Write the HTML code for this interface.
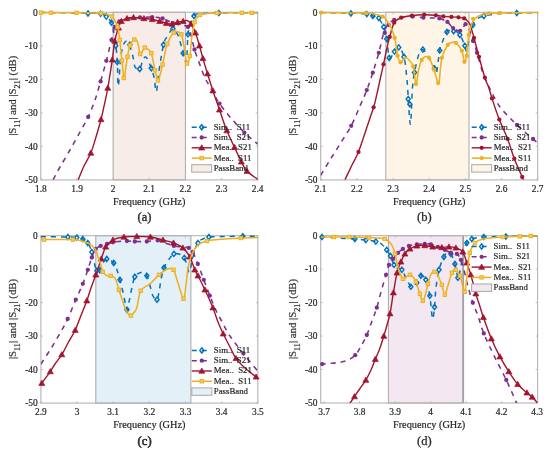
<!DOCTYPE html><html><head><meta charset="utf-8"><style>html,body{margin:0;padding:0;background:#fff;}svg{display:block;}</style></head><body><svg width="550" height="452" viewBox="0 0 550 452" font-family="Liberation Serif, serif">
<rect width="550" height="452" fill="#fff"/>
<defs><clipPath id="clipa"><rect x="40.8" y="9.3" width="216.89999999999998" height="170.6"/></clipPath></defs>
<rect x="113.1" y="12.3" width="72.3" height="167.6" fill="#F8ECE8" stroke="#a8a8a8" stroke-width="1"/>
<rect x="40.8" y="12.3" width="216.9" height="167.6" fill="none" stroke="#b4b4b4" stroke-width="1.1"/>
<path d="M40.8,179.9v-2M40.8,12.3v2M77.0,179.9v-2M77.0,12.3v2M113.1,179.9v-2M113.1,12.3v2M149.2,179.9v-2M149.2,12.3v2M185.4,179.9v-2M185.4,12.3v2M221.5,179.9v-2M221.5,12.3v2M257.7,179.9v-2M257.7,12.3v2M40.8,12.3h2M257.7,12.3h-2M40.8,45.8h2M257.7,45.8h-2M40.8,79.3h2M257.7,79.3h-2M40.8,112.9h2M257.7,112.9h-2M40.8,146.4h2M257.7,146.4h-2M40.8,179.9h2M257.7,179.9h-2" stroke="#b4b4b4" stroke-width="0.8" fill="none"/>
<path clip-path="url(#clipa)" fill="none" stroke-linejoin="round" d="M40.8,12.5C48.7,12.6 78.0,13.0 88.0,13.2C98.0,13.4 97.5,13.2 100.6,13.8C103.6,14.4 104.5,15.1 106.3,16.6C108.1,18.1 110.2,20.1 111.5,22.8C112.8,25.5 113.1,28.9 113.8,32.6C114.5,36.3 115.2,40.1 115.8,45.0C116.4,49.9 116.9,55.3 117.3,62.0C117.7,68.7 117.7,82.0 118.0,85.0C118.3,88.0 118.6,84.1 119.0,80.0C119.4,75.9 119.8,66.2 120.4,60.6C121.0,55.1 121.8,49.9 122.7,46.7C123.6,43.5 124.8,41.8 125.8,41.3C126.8,40.8 127.7,41.1 128.9,43.6C130.1,46.1 131.8,52.1 132.8,56.0C133.8,59.9 133.8,64.6 135.0,66.8C136.2,69.0 138.4,70.1 139.7,69.0C141.0,67.9 141.8,62.0 142.8,60.0C143.8,58.0 144.6,57.0 145.5,57.0C146.4,57.0 147.0,58.1 148.0,60.0C149.0,61.9 150.3,65.3 151.3,68.3C152.3,71.2 153.3,73.8 154.1,77.7C154.9,81.6 155.4,90.3 156.0,91.5C156.6,92.7 157.0,88.2 157.5,85.0C158.0,81.8 157.8,78.7 158.8,72.0C159.8,65.3 162.1,50.8 163.5,44.8C164.9,38.8 165.7,39.0 167.3,36.3C168.9,33.6 171.2,29.1 172.9,28.8C174.6,28.5 176.2,31.7 177.6,34.4C178.9,37.1 180.1,41.9 181.0,45.0C181.9,48.1 182.4,50.3 183.2,53.2C184.0,56.1 185.4,62.3 186.0,62.6C186.6,62.9 186.7,59.7 187.0,55.0C187.3,50.3 187.5,39.4 188.0,34.4C188.5,29.4 189.0,28.1 190.0,25.0C191.0,21.9 192.6,17.9 194.0,16.0C195.4,14.1 194.2,14.3 198.3,13.8C202.4,13.3 208.9,13.2 218.8,13.0C228.7,12.8 251.2,12.7 257.7,12.6" stroke="#0072BD" stroke-width="1.5" stroke-dasharray="5,5"/>
<path d="M88.0,10.8L90.0,13.4L88.0,16.0L86.0,13.4Z" fill="none" stroke="#0072BD" stroke-width="1.4"/>
<path d="M100.6,11.2L102.6,13.8L100.6,16.4L98.5,13.8Z" fill="none" stroke="#0072BD" stroke-width="1.4"/>
<path d="M106.3,14.0L108.3,16.6L106.3,19.2L104.2,16.6Z" fill="none" stroke="#0072BD" stroke-width="1.4"/>
<path d="M111.5,20.2L113.5,22.8L111.5,25.4L109.5,22.8Z" fill="none" stroke="#0072BD" stroke-width="1.4"/>
<path d="M115.8,43.1L117.8,45.7L115.8,48.3L113.8,45.7Z" fill="none" stroke="#0072BD" stroke-width="1.4"/>
<path d="M117.3,59.4L119.3,62.0L117.3,64.6L115.2,62.0Z" fill="none" stroke="#0072BD" stroke-width="1.4"/>
<path d="M129.8,42.2L131.9,44.8L129.8,47.4L127.8,44.8Z" fill="none" stroke="#0072BD" stroke-width="1.4"/>
<path d="M139.7,66.4L141.8,69.0L139.7,71.6L137.6,69.0Z" fill="none" stroke="#0072BD" stroke-width="1.4"/>
<path d="M151.3,65.7L153.4,68.3L151.3,70.9L149.2,68.3Z" fill="none" stroke="#0072BD" stroke-width="1.4"/>
<path d="M163.5,42.2L165.6,44.8L163.5,47.4L161.4,44.8Z" fill="none" stroke="#0072BD" stroke-width="1.4"/>
<path d="M172.9,26.2L175.0,28.8L172.9,31.4L170.8,28.8Z" fill="none" stroke="#0072BD" stroke-width="1.4"/>
<path d="M183.2,50.6L185.2,53.2L183.2,55.8L181.1,53.2Z" fill="none" stroke="#0072BD" stroke-width="1.4"/>
<path d="M188.0,31.8L190.1,34.4L188.0,37.0L185.9,34.4Z" fill="none" stroke="#0072BD" stroke-width="1.4"/>
<path d="M194.0,13.4L196.1,16.0L194.0,18.6L191.9,16.0Z" fill="none" stroke="#0072BD" stroke-width="1.4"/>
<path d="M218.8,10.4L220.9,13.0L218.8,15.6L216.8,13.0Z" fill="none" stroke="#0072BD" stroke-width="1.4"/>
<path clip-path="url(#clipa)" fill="none" stroke-linejoin="round" d="M53.2,179.6C54.3,177.5 57.2,171.9 60.0,167.0C62.8,162.1 66.7,155.8 70.0,150.0C73.3,144.2 77.0,137.5 80.0,132.0C83.0,126.5 85.7,122.3 88.2,117.0C90.7,111.7 92.9,105.9 95.0,100.0C97.1,94.1 98.7,87.9 100.6,81.4C102.5,74.9 104.5,67.7 106.3,60.8C108.1,53.9 110.1,45.6 111.5,40.0C112.9,34.4 113.4,30.1 114.7,27.0C116.0,23.9 117.7,22.6 119.4,21.3C121.1,20.0 123.2,19.6 125.0,19.0C126.8,18.4 127.5,18.2 130.0,18.0C132.5,17.8 136.3,17.6 140.0,17.5C143.7,17.4 148.4,16.9 152.2,17.1C156.0,17.3 159.1,17.5 162.6,18.5C166.1,19.5 170.0,22.1 172.9,23.2C175.8,24.3 177.5,24.4 180.0,25.0C182.5,25.6 186.2,25.3 188.0,27.0C189.8,28.7 189.9,31.2 191.0,35.0C192.1,38.8 193.0,44.5 194.5,49.5C196.0,54.5 198.2,60.2 200.0,65.0C201.8,69.8 203.3,74.4 205.0,78.0C206.7,81.6 208.2,83.7 209.9,86.7C211.6,89.7 213.4,93.2 215.0,96.0C216.6,98.8 217.0,100.1 219.5,103.6C222.0,107.1 225.8,112.2 230.0,117.0C234.2,121.8 239.7,128.2 244.4,132.7C249.1,137.2 255.7,142.2 258.0,144.1" stroke="#7E2F8E" stroke-width="1.55" stroke-dasharray="5,5"/>
<circle cx="88.2" cy="117.0" r="2.15" fill="#7E2F8E"/>
<circle cx="100.6" cy="81.4" r="2.15" fill="#7E2F8E"/>
<circle cx="106.3" cy="60.8" r="2.15" fill="#7E2F8E"/>
<circle cx="111.5" cy="40.0" r="2.15" fill="#7E2F8E"/>
<circle cx="114.7" cy="27.0" r="2.15" fill="#7E2F8E"/>
<circle cx="119.4" cy="21.3" r="2.15" fill="#7E2F8E"/>
<circle cx="140.0" cy="17.5" r="2.15" fill="#7E2F8E"/>
<circle cx="152.2" cy="17.1" r="2.15" fill="#7E2F8E"/>
<circle cx="162.6" cy="18.5" r="2.15" fill="#7E2F8E"/>
<circle cx="172.9" cy="23.2" r="2.15" fill="#7E2F8E"/>
<circle cx="188.0" cy="27.0" r="2.15" fill="#7E2F8E"/>
<circle cx="194.5" cy="49.5" r="2.15" fill="#7E2F8E"/>
<circle cx="219.5" cy="103.6" r="2.15" fill="#7E2F8E"/>
<circle cx="244.4" cy="132.7" r="2.15" fill="#7E2F8E"/>
<path clip-path="url(#clipa)" fill="none" stroke-linejoin="round" d="M78.2,179.6C79.2,177.3 81.9,170.4 84.0,166.0C86.1,161.6 88.8,157.8 90.8,153.0C92.8,148.2 94.3,142.6 96.0,137.0C97.7,131.4 99.6,125.0 101.0,119.5C102.4,114.0 103.4,109.2 104.5,104.0C105.6,98.8 106.5,95.4 107.8,88.0C109.1,80.6 111.1,67.6 112.3,59.8C113.5,52.0 113.7,46.3 114.7,41.0C115.7,35.7 117.4,31.2 118.5,27.9C119.6,24.6 119.9,22.9 121.3,21.3C122.7,19.7 125.0,19.1 127.0,18.5C129.0,17.9 130.7,17.5 133.5,17.5C136.3,17.5 140.8,18.2 143.9,18.5C147.0,18.8 149.7,18.9 152.3,19.4C154.9,19.9 157.4,20.7 159.7,21.3C162.0,21.9 164.2,22.7 166.3,23.2C168.4,23.7 170.1,24.3 172.0,24.1C173.9,23.9 175.7,22.7 177.6,22.2C179.5,21.7 181.6,21.6 183.2,21.3C184.8,21.0 185.7,20.1 187.0,20.5C188.3,20.9 189.6,21.9 191.0,24.0C192.4,26.1 194.1,29.3 195.5,32.9C196.9,36.5 198.3,41.5 199.5,45.8C200.7,50.0 201.6,53.8 202.9,58.4C204.2,63.0 205.8,68.3 207.5,73.7C209.2,79.1 210.9,84.7 212.9,90.7C214.9,96.7 217.2,103.2 219.5,109.8C221.8,116.4 224.3,124.3 226.8,130.6C229.3,136.8 232.1,142.1 234.5,147.3C236.9,152.5 239.2,157.8 241.3,161.8C243.4,165.8 244.2,168.2 247.0,171.2C249.8,174.1 256.2,178.1 258.0,179.5" stroke="#A2142F" stroke-width="1.4"/>
<path d="M90.8,150.0L93.8,155.2L87.8,155.2Z" fill="#A2142F" stroke="#A2142F" stroke-width="0.7" stroke-linejoin="round"/>
<path d="M101.0,116.5L104.0,121.7L98.0,121.7Z" fill="#A2142F" stroke="#A2142F" stroke-width="0.7" stroke-linejoin="round"/>
<path d="M107.8,85.0L110.8,90.2L104.8,90.2Z" fill="#A2142F" stroke="#A2142F" stroke-width="0.7" stroke-linejoin="round"/>
<path d="M112.3,56.8L115.3,62.0L109.3,62.0Z" fill="#A2142F" stroke="#A2142F" stroke-width="0.7" stroke-linejoin="round"/>
<path d="M114.7,38.0L117.7,43.2L111.7,43.2Z" fill="#A2142F" stroke="#A2142F" stroke-width="0.7" stroke-linejoin="round"/>
<path d="M118.5,24.9L121.5,30.1L115.5,30.1Z" fill="#A2142F" stroke="#A2142F" stroke-width="0.7" stroke-linejoin="round"/>
<path d="M121.3,18.3L124.3,23.5L118.3,23.5Z" fill="#A2142F" stroke="#A2142F" stroke-width="0.7" stroke-linejoin="round"/>
<path d="M127.0,15.5L130.0,20.7L124.0,20.7Z" fill="#A2142F" stroke="#A2142F" stroke-width="0.7" stroke-linejoin="round"/>
<path d="M133.5,14.5L136.5,19.7L130.5,19.7Z" fill="#A2142F" stroke="#A2142F" stroke-width="0.7" stroke-linejoin="round"/>
<path d="M143.9,15.5L146.9,20.7L140.9,20.7Z" fill="#A2142F" stroke="#A2142F" stroke-width="0.7" stroke-linejoin="round"/>
<path d="M152.3,16.4L155.3,21.6L149.3,21.6Z" fill="#A2142F" stroke="#A2142F" stroke-width="0.7" stroke-linejoin="round"/>
<path d="M159.7,18.3L162.7,23.5L156.7,23.5Z" fill="#A2142F" stroke="#A2142F" stroke-width="0.7" stroke-linejoin="round"/>
<path d="M166.3,20.2L169.3,25.4L163.3,25.4Z" fill="#A2142F" stroke="#A2142F" stroke-width="0.7" stroke-linejoin="round"/>
<path d="M172.0,21.1L175.0,26.3L169.0,26.3Z" fill="#A2142F" stroke="#A2142F" stroke-width="0.7" stroke-linejoin="round"/>
<path d="M177.6,19.2L180.6,24.4L174.6,24.4Z" fill="#A2142F" stroke="#A2142F" stroke-width="0.7" stroke-linejoin="round"/>
<path d="M183.2,18.3L186.2,23.5L180.2,23.5Z" fill="#A2142F" stroke="#A2142F" stroke-width="0.7" stroke-linejoin="round"/>
<path d="M191.0,21.0L194.0,26.2L188.0,26.2Z" fill="#A2142F" stroke="#A2142F" stroke-width="0.7" stroke-linejoin="round"/>
<path d="M195.5,29.9L198.5,35.1L192.5,35.1Z" fill="#A2142F" stroke="#A2142F" stroke-width="0.7" stroke-linejoin="round"/>
<path d="M199.5,42.8L202.5,48.0L196.5,48.0Z" fill="#A2142F" stroke="#A2142F" stroke-width="0.7" stroke-linejoin="round"/>
<path d="M202.9,55.4L205.9,60.6L199.9,60.6Z" fill="#A2142F" stroke="#A2142F" stroke-width="0.7" stroke-linejoin="round"/>
<path d="M207.5,70.7L210.5,75.9L204.5,75.9Z" fill="#A2142F" stroke="#A2142F" stroke-width="0.7" stroke-linejoin="round"/>
<path d="M212.9,87.7L215.9,92.9L209.9,92.9Z" fill="#A2142F" stroke="#A2142F" stroke-width="0.7" stroke-linejoin="round"/>
<path d="M219.5,106.8L222.5,112.0L216.5,112.0Z" fill="#A2142F" stroke="#A2142F" stroke-width="0.7" stroke-linejoin="round"/>
<path d="M226.8,127.6L229.8,132.8L223.8,132.8Z" fill="#A2142F" stroke="#A2142F" stroke-width="0.7" stroke-linejoin="round"/>
<path d="M234.5,144.3L237.5,149.5L231.5,149.5Z" fill="#A2142F" stroke="#A2142F" stroke-width="0.7" stroke-linejoin="round"/>
<path d="M241.3,158.8L244.3,164.0L238.3,164.0Z" fill="#A2142F" stroke="#A2142F" stroke-width="0.7" stroke-linejoin="round"/>
<path d="M247.0,168.2L250.0,173.4L244.0,173.4Z" fill="#A2142F" stroke="#A2142F" stroke-width="0.7" stroke-linejoin="round"/>
<path clip-path="url(#clipa)" fill="none" stroke-linejoin="round" d="M40.8,12.6C42.5,12.6 45.0,12.7 51.0,12.7C57.0,12.7 68.3,12.7 76.6,12.8C84.9,12.9 95.8,13.0 101.0,13.3C106.2,13.6 106.2,13.9 108.0,14.5C109.8,15.1 110.9,15.7 112.0,16.6C113.1,17.5 113.6,18.3 114.5,20.0C115.4,21.7 116.7,23.7 117.6,27.0C118.5,30.3 119.1,34.4 119.8,40.0C120.5,45.6 121.3,54.3 122.0,60.6C122.7,66.9 123.2,76.4 123.8,78.0C124.4,79.6 124.9,73.5 125.5,70.0C126.1,66.5 126.8,60.8 127.5,56.7C128.2,52.6 128.9,48.4 130.0,45.5C131.1,42.6 133.1,40.1 134.3,39.5C135.6,38.9 136.5,39.6 137.5,42.0C138.5,44.4 139.4,52.3 140.2,54.0C140.9,55.7 141.2,53.1 142.0,52.0C142.8,50.9 144.0,48.2 144.8,47.6C145.6,47.0 145.9,47.6 147.0,48.5C148.1,49.4 150.0,49.6 151.3,53.2C152.6,56.8 153.9,65.7 155.0,70.2C156.1,74.8 157.1,79.7 157.9,80.5C158.7,81.3 159.2,77.7 160.0,75.0C160.8,72.3 161.4,69.7 162.6,64.5C163.8,59.3 165.4,49.1 167.3,43.8C169.2,38.5 172.0,34.6 173.8,32.6C175.6,30.6 176.7,31.7 178.0,32.0C179.3,32.3 180.4,31.8 181.4,34.4C182.4,37.0 183.3,42.7 184.2,47.6C185.1,52.5 186.1,62.2 187.0,63.6C187.9,65.0 189.0,60.2 189.8,56.0C190.6,51.8 190.9,43.8 191.7,38.2C192.5,32.6 193.4,25.8 194.5,22.2C195.6,18.6 197.4,17.8 198.3,16.6C199.2,15.4 198.8,15.5 199.9,15.0C201.0,14.5 202.2,14.1 205.0,13.8C207.8,13.5 210.8,13.2 216.9,13.0C223.0,12.8 236.0,12.8 241.8,12.8C247.6,12.8 249.0,12.8 251.7,12.8C254.3,12.8 256.7,12.8 257.7,12.8" stroke="#EDB120" stroke-width="1.55"/>
<rect x="39.3" y="10.9" width="3.4" height="3.4" fill="#F3CB6A" stroke="#EDB120" stroke-width="1"/>
<rect x="49.3" y="11.0" width="3.4" height="3.4" fill="#F3CB6A" stroke="#EDB120" stroke-width="1"/>
<rect x="74.9" y="11.1" width="3.4" height="3.4" fill="#F3CB6A" stroke="#EDB120" stroke-width="1"/>
<rect x="99.3" y="11.6" width="3.4" height="3.4" fill="#F3CB6A" stroke="#EDB120" stroke-width="1"/>
<rect x="110.3" y="14.9" width="3.4" height="3.4" fill="#F3CB6A" stroke="#EDB120" stroke-width="1"/>
<rect x="115.9" y="25.3" width="3.4" height="3.4" fill="#F3CB6A" stroke="#EDB120" stroke-width="1"/>
<rect x="118.1" y="38.3" width="3.4" height="3.4" fill="#F3CB6A" stroke="#EDB120" stroke-width="1"/>
<rect x="120.3" y="58.9" width="3.4" height="3.4" fill="#F3CB6A" stroke="#EDB120" stroke-width="1"/>
<rect x="122.1" y="76.3" width="3.4" height="3.4" fill="#F3CB6A" stroke="#EDB120" stroke-width="1"/>
<rect x="125.8" y="55.0" width="3.4" height="3.4" fill="#F3CB6A" stroke="#EDB120" stroke-width="1"/>
<rect x="128.3" y="43.8" width="3.4" height="3.4" fill="#F3CB6A" stroke="#EDB120" stroke-width="1"/>
<rect x="132.6" y="37.8" width="3.4" height="3.4" fill="#F3CB6A" stroke="#EDB120" stroke-width="1"/>
<rect x="138.5" y="52.3" width="3.4" height="3.4" fill="#F3CB6A" stroke="#EDB120" stroke-width="1"/>
<rect x="143.1" y="45.9" width="3.4" height="3.4" fill="#F3CB6A" stroke="#EDB120" stroke-width="1"/>
<rect x="149.6" y="51.5" width="3.4" height="3.4" fill="#F3CB6A" stroke="#EDB120" stroke-width="1"/>
<rect x="153.3" y="68.5" width="3.4" height="3.4" fill="#F3CB6A" stroke="#EDB120" stroke-width="1"/>
<rect x="156.2" y="78.8" width="3.4" height="3.4" fill="#F3CB6A" stroke="#EDB120" stroke-width="1"/>
<rect x="160.9" y="62.8" width="3.4" height="3.4" fill="#F3CB6A" stroke="#EDB120" stroke-width="1"/>
<rect x="165.6" y="42.1" width="3.4" height="3.4" fill="#F3CB6A" stroke="#EDB120" stroke-width="1"/>
<rect x="172.1" y="30.9" width="3.4" height="3.4" fill="#F3CB6A" stroke="#EDB120" stroke-width="1"/>
<rect x="179.7" y="32.7" width="3.4" height="3.4" fill="#F3CB6A" stroke="#EDB120" stroke-width="1"/>
<rect x="185.3" y="61.9" width="3.4" height="3.4" fill="#F3CB6A" stroke="#EDB120" stroke-width="1"/>
<rect x="188.1" y="54.3" width="3.4" height="3.4" fill="#F3CB6A" stroke="#EDB120" stroke-width="1"/>
<rect x="192.8" y="20.5" width="3.4" height="3.4" fill="#F3CB6A" stroke="#EDB120" stroke-width="1"/>
<rect x="198.2" y="13.3" width="3.4" height="3.4" fill="#F3CB6A" stroke="#EDB120" stroke-width="1"/>
<rect x="215.2" y="11.3" width="3.4" height="3.4" fill="#F3CB6A" stroke="#EDB120" stroke-width="1"/>
<rect x="240.1" y="11.1" width="3.4" height="3.4" fill="#F3CB6A" stroke="#EDB120" stroke-width="1"/>
<rect x="250.0" y="11.1" width="3.4" height="3.4" fill="#F3CB6A" stroke="#EDB120" stroke-width="1"/>
<line x1="191.7" y1="127.2" x2="211.7" y2="127.2" stroke="#0072BD" stroke-width="1.5" stroke-dasharray="5,5"/>
<path d="M201.7,124.6L203.8,127.2L201.7,129.8L199.6,127.2Z" fill="none" stroke="#0072BD" stroke-width="1.4"/>
<line x1="191.7" y1="137.5" x2="211.7" y2="137.5" stroke="#7E2F8E" stroke-width="1.55" stroke-dasharray="5,5"/>
<circle cx="201.7" cy="137.5" r="2.15" fill="#7E2F8E"/>
<line x1="191.7" y1="147.8" x2="211.7" y2="147.8" stroke="#A2142F" stroke-width="1.4"/>
<path d="M201.7,144.8L204.7,150.0L198.7,150.0Z" fill="#A2142F" stroke="#A2142F" stroke-width="0.7" stroke-linejoin="round"/>
<line x1="191.7" y1="158.1" x2="211.7" y2="158.1" stroke="#EDB120" stroke-width="1.55"/>
<rect x="200.0" y="156.4" width="3.4" height="3.4" fill="#F3CB6A" stroke="#EDB120" stroke-width="1"/>
<rect x="191.7" y="164.7" width="20" height="7.4" fill="#F8ECE8" stroke="#a8a8a8" stroke-width="1"/>
<defs><clipPath id="clipb"><rect x="320.7" y="9.3" width="217.00000000000006" height="170.6"/></clipPath></defs>
<rect x="385.8" y="12.3" width="83.2" height="167.6" fill="#FEF5E6" stroke="#a8a8a8" stroke-width="1"/>
<rect x="320.7" y="12.3" width="217.0" height="167.6" fill="none" stroke="#b4b4b4" stroke-width="1.1"/>
<path d="M320.7,179.9v-2M320.7,12.3v2M356.9,179.9v-2M356.9,12.3v2M393.0,179.9v-2M393.0,12.3v2M429.2,179.9v-2M429.2,12.3v2M465.4,179.9v-2M465.4,12.3v2M501.5,179.9v-2M501.5,12.3v2M537.7,179.9v-2M537.7,12.3v2M320.7,12.3h2M537.7,12.3h-2M320.7,45.8h2M537.7,45.8h-2M320.7,79.3h2M537.7,79.3h-2M320.7,112.9h2M537.7,112.9h-2M320.7,146.4h2M537.7,146.4h-2M320.7,179.9h2M537.7,179.9h-2" stroke="#b4b4b4" stroke-width="0.8" fill="none"/>
<path clip-path="url(#clipb)" fill="none" stroke-linejoin="round" d="M320.7,12.6C325.7,12.7 343.2,13.0 350.9,13.2C358.6,13.4 363.1,13.5 366.8,14.0C370.5,14.5 370.8,15.2 372.8,16.0C374.8,16.8 377.0,16.7 378.8,18.5C380.6,20.3 382.1,23.8 383.5,27.0C384.9,30.2 386.1,32.9 387.0,38.0C387.9,43.1 387.9,55.6 389.2,57.9C390.4,60.2 392.9,53.4 394.5,51.6C396.1,49.9 397.1,46.5 398.7,47.4C400.3,48.3 402.6,51.4 404.0,56.8C405.4,62.2 405.9,68.8 407.0,80.0C408.1,91.2 409.4,122.8 410.3,124.2C411.2,125.6 411.7,97.0 412.4,88.4C413.1,79.8 413.4,78.2 414.5,72.6C415.6,67.0 417.3,58.6 418.7,54.7C420.1,50.9 421.5,49.5 422.9,49.5C424.3,49.5 425.4,52.7 427.0,55.0C428.6,57.3 431.1,61.0 432.4,63.2C433.6,65.4 433.8,66.9 434.5,68.4C435.2,69.9 435.7,75.0 436.6,72.0C437.5,69.0 438.8,55.3 439.7,50.5C440.6,45.7 440.8,46.1 442.0,43.0C443.2,39.9 445.1,34.1 446.9,31.9C448.7,29.7 450.7,29.4 452.9,29.9C455.1,30.4 457.9,32.2 459.9,34.9C461.9,37.5 463.6,43.1 464.8,45.8C466.0,48.4 466.0,52.6 466.8,50.8C467.6,49.0 468.8,39.2 469.8,34.9C470.8,30.6 471.6,27.5 472.8,24.9C474.0,22.2 475.1,20.5 477.0,19.0C478.9,17.5 480.1,16.9 483.9,16.0C487.7,15.1 494.5,14.0 500.0,13.5C505.5,13.0 510.5,13.1 516.8,13.0C523.1,12.9 534.2,12.8 537.7,12.7" stroke="#0072BD" stroke-width="1.5" stroke-dasharray="5,5"/>
<path d="M350.9,10.8L352.9,13.4L350.9,16.0L348.8,13.4Z" fill="none" stroke="#0072BD" stroke-width="1.4"/>
<path d="M366.8,11.4L368.9,14.0L366.8,16.6L364.8,14.0Z" fill="none" stroke="#0072BD" stroke-width="1.4"/>
<path d="M372.8,13.4L374.9,16.0L372.8,18.6L370.8,16.0Z" fill="none" stroke="#0072BD" stroke-width="1.4"/>
<path d="M378.8,15.4L380.9,18.0L378.8,20.6L376.8,18.0Z" fill="none" stroke="#0072BD" stroke-width="1.4"/>
<path d="M383.7,24.3L385.8,26.9L383.7,29.5L381.6,26.9Z" fill="none" stroke="#0072BD" stroke-width="1.4"/>
<path d="M386.7,36.3L388.8,38.9L386.7,41.5L384.6,38.9Z" fill="none" stroke="#0072BD" stroke-width="1.4"/>
<path d="M389.2,55.3L391.2,57.9L389.2,60.5L387.1,57.9Z" fill="none" stroke="#0072BD" stroke-width="1.4"/>
<path d="M394.5,49.0L396.6,51.6L394.5,54.2L392.4,51.6Z" fill="none" stroke="#0072BD" stroke-width="1.4"/>
<path d="M398.7,44.8L400.8,47.4L398.7,50.0L396.6,47.4Z" fill="none" stroke="#0072BD" stroke-width="1.4"/>
<path d="M404.0,54.2L406.1,56.8L404.0,59.4L401.9,56.8Z" fill="none" stroke="#0072BD" stroke-width="1.4"/>
<path d="M408.2,96.4L410.2,99.0L408.2,101.6L406.1,99.0Z" fill="none" stroke="#0072BD" stroke-width="1.4"/>
<path d="M409.8,101.6L411.9,104.2L409.8,106.8L407.8,104.2Z" fill="none" stroke="#0072BD" stroke-width="1.4"/>
<path d="M414.5,70.0L416.6,72.6L414.5,75.2L412.4,72.6Z" fill="none" stroke="#0072BD" stroke-width="1.4"/>
<path d="M422.9,46.9L424.9,49.5L422.9,52.1L420.8,49.5Z" fill="none" stroke="#0072BD" stroke-width="1.4"/>
<path d="M434.5,65.8L436.6,68.4L434.5,71.0L432.4,68.4Z" fill="none" stroke="#0072BD" stroke-width="1.4"/>
<path d="M439.7,47.9L441.8,50.5L439.7,53.1L437.6,50.5Z" fill="none" stroke="#0072BD" stroke-width="1.4"/>
<path d="M446.9,29.3L448.9,31.9L446.9,34.5L444.8,31.9Z" fill="none" stroke="#0072BD" stroke-width="1.4"/>
<path d="M453.6,28.6L455.7,31.2L453.6,33.8L451.6,31.2Z" fill="none" stroke="#0072BD" stroke-width="1.4"/>
<path d="M459.9,32.3L461.9,34.9L459.9,37.5L457.8,34.9Z" fill="none" stroke="#0072BD" stroke-width="1.4"/>
<path d="M464.8,43.2L466.9,45.8L464.8,48.4L462.8,45.8Z" fill="none" stroke="#0072BD" stroke-width="1.4"/>
<path d="M472.8,22.3L474.9,24.9L472.8,27.5L470.8,24.9Z" fill="none" stroke="#0072BD" stroke-width="1.4"/>
<path d="M483.9,13.4L485.9,16.0L483.9,18.6L481.8,16.0Z" fill="none" stroke="#0072BD" stroke-width="1.4"/>
<path d="M516.8,10.4L518.8,13.0L516.8,15.6L514.8,13.0Z" fill="none" stroke="#0072BD" stroke-width="1.4"/>
<path clip-path="url(#clipb)" fill="none" stroke-linejoin="round" d="M320.7,175.3C322.2,172.8 326.8,165.2 330.0,160.0C333.2,154.8 336.5,149.7 340.0,144.0C343.5,138.3 347.9,132.1 351.2,125.8C354.5,119.5 357.4,112.0 360.0,106.0C362.6,100.0 364.7,95.6 366.8,90.1C368.9,84.5 370.8,78.9 372.8,72.7C374.8,66.5 377.0,59.4 378.8,52.8C380.6,46.2 382.3,37.6 383.5,33.3C384.7,29.0 385.1,28.9 386.2,27.1C387.3,25.3 388.7,23.7 390.0,22.5C391.3,21.3 392.5,20.8 394.2,20.0C395.9,19.2 396.9,18.6 400.0,18.0C403.1,17.4 408.8,16.6 412.7,16.5C416.6,16.4 420.0,17.4 423.4,17.7C426.8,17.9 430.3,17.9 433.0,18.0C435.7,18.1 437.0,17.8 439.4,18.4C441.8,19.0 445.1,20.3 447.4,21.9C449.7,23.5 451.0,26.6 453.1,28.1C455.2,29.6 458.1,31.5 460.2,30.8C462.3,30.1 464.2,25.0 465.5,24.2C466.8,23.4 466.8,23.4 468.0,26.0C469.2,28.6 471.5,35.5 473.0,40.0C474.5,44.5 475.4,47.3 477.0,52.8C478.6,58.2 480.6,66.3 482.9,72.7C485.2,79.1 488.1,85.3 491.0,91.0C493.9,96.7 496.8,102.5 500.0,107.0C503.2,111.5 507.2,115.0 510.0,118.0C512.8,121.0 514.2,122.3 517.0,125.0C519.8,127.7 523.5,131.0 527.0,134.0C530.5,137.0 535.9,141.5 537.7,143.0" stroke="#7E2F8E" stroke-width="1.55" stroke-dasharray="5,5"/>
<circle cx="351.2" cy="125.8" r="2.15" fill="#7E2F8E"/>
<circle cx="366.8" cy="90.1" r="2.15" fill="#7E2F8E"/>
<circle cx="372.8" cy="72.7" r="2.15" fill="#7E2F8E"/>
<circle cx="378.8" cy="52.8" r="2.15" fill="#7E2F8E"/>
<circle cx="384.7" cy="32.9" r="2.15" fill="#7E2F8E"/>
<circle cx="388.7" cy="24.9" r="2.15" fill="#7E2F8E"/>
<circle cx="394.2" cy="20.0" r="2.15" fill="#7E2F8E"/>
<circle cx="412.7" cy="16.5" r="2.15" fill="#7E2F8E"/>
<circle cx="423.4" cy="17.7" r="2.15" fill="#7E2F8E"/>
<circle cx="439.4" cy="18.4" r="2.15" fill="#7E2F8E"/>
<circle cx="447.4" cy="21.9" r="2.15" fill="#7E2F8E"/>
<circle cx="453.1" cy="28.1" r="2.15" fill="#7E2F8E"/>
<circle cx="460.2" cy="30.8" r="2.15" fill="#7E2F8E"/>
<circle cx="465.5" cy="24.2" r="2.15" fill="#7E2F8E"/>
<circle cx="473.0" cy="40.9" r="2.15" fill="#7E2F8E"/>
<circle cx="477.0" cy="52.8" r="2.15" fill="#7E2F8E"/>
<circle cx="517.0" cy="125.0" r="2.15" fill="#7E2F8E"/>
<circle cx="533.0" cy="139.0" r="2.15" fill="#7E2F8E"/>
<path clip-path="url(#clipb)" fill="none" stroke-linejoin="round" d="M345.0,179.6C346.2,177.2 349.8,169.6 352.0,165.0C354.2,160.4 356.2,157.8 358.5,152.0C360.8,146.2 363.5,137.4 366.0,130.0C368.5,122.5 371.8,113.2 373.6,107.3C375.4,101.4 375.7,99.1 376.8,94.6C377.9,90.0 378.9,85.0 380.0,80.0C381.1,75.0 382.4,69.3 383.5,64.3C384.6,59.3 385.5,54.6 386.5,50.0C387.5,45.4 388.4,41.4 389.7,36.9C391.0,32.4 392.3,25.9 394.2,22.7C396.1,19.5 398.2,18.9 401.2,17.7C404.1,16.5 408.1,16.1 411.9,15.6C415.7,15.1 420.2,14.8 424.2,14.7C428.2,14.6 432.7,15.0 435.9,15.3C439.1,15.6 440.8,16.1 443.4,16.4C446.0,16.7 448.9,16.8 451.4,16.9C453.9,17.0 456.4,17.1 458.5,17.3C460.6,17.6 462.8,17.9 464.2,18.4C465.6,18.9 466.0,19.5 467.0,20.5C468.0,21.5 468.8,21.7 470.0,24.6C471.2,27.5 472.5,32.5 474.0,37.9C475.5,43.3 477.2,50.2 479.0,56.8C480.8,63.4 483.2,72.5 484.9,77.7C486.5,82.9 487.7,84.5 488.9,88.0C490.1,91.5 490.3,93.1 492.0,98.4C493.7,103.7 496.7,112.8 499.3,119.6C501.9,126.3 505.1,132.4 507.6,138.9C510.1,145.4 511.9,152.3 514.3,158.7C516.7,165.0 520.7,173.5 522.2,177.0C523.7,180.5 523.3,179.2 523.5,179.6" stroke="#A2142F" stroke-width="1.4"/>
<circle cx="358.5" cy="152.0" r="2.15" fill="#A2142F"/>
<circle cx="373.6" cy="107.3" r="2.15" fill="#A2142F"/>
<circle cx="383.5" cy="64.3" r="2.15" fill="#A2142F"/>
<circle cx="389.7" cy="36.9" r="2.15" fill="#A2142F"/>
<circle cx="394.2" cy="22.7" r="2.15" fill="#A2142F"/>
<circle cx="401.2" cy="17.7" r="2.15" fill="#A2142F"/>
<circle cx="411.9" cy="15.6" r="2.15" fill="#A2142F"/>
<circle cx="424.2" cy="14.7" r="2.15" fill="#A2142F"/>
<circle cx="435.9" cy="15.3" r="2.15" fill="#A2142F"/>
<circle cx="443.4" cy="16.4" r="2.15" fill="#A2142F"/>
<circle cx="451.4" cy="16.9" r="2.15" fill="#A2142F"/>
<circle cx="458.5" cy="17.3" r="2.15" fill="#A2142F"/>
<circle cx="464.2" cy="18.4" r="2.15" fill="#A2142F"/>
<circle cx="474.0" cy="37.9" r="2.15" fill="#A2142F"/>
<circle cx="479.0" cy="56.8" r="2.15" fill="#A2142F"/>
<circle cx="484.9" cy="77.7" r="2.15" fill="#A2142F"/>
<circle cx="492.0" cy="98.4" r="2.15" fill="#A2142F"/>
<circle cx="499.3" cy="119.6" r="2.15" fill="#A2142F"/>
<circle cx="507.6" cy="138.9" r="2.15" fill="#A2142F"/>
<circle cx="514.3" cy="158.7" r="2.15" fill="#A2142F"/>
<circle cx="522.2" cy="177.0" r="2.15" fill="#A2142F"/>
<path clip-path="url(#clipb)" fill="none" stroke-linejoin="round" d="M320.7,12.6C328.2,12.7 356.8,12.7 365.8,13.0C374.9,13.3 372.2,13.6 375.0,14.2C377.8,14.8 380.9,15.7 382.7,16.6C384.5,17.5 384.7,17.8 386.0,19.5C387.3,21.2 389.2,23.8 390.7,26.9C392.1,30.0 393.7,34.0 394.7,37.9C395.7,41.8 396.2,47.0 396.7,50.0C397.2,53.0 397.0,53.8 397.6,55.8C398.2,57.8 399.7,61.6 400.6,62.3C401.5,63.0 402.2,60.8 403.0,60.0C403.8,59.2 404.5,57.5 405.5,57.5C406.5,57.5 407.7,58.5 409.0,60.0C410.3,61.5 412.0,62.3 413.2,66.3C414.4,70.3 415.1,83.4 416.0,84.0C416.9,84.6 417.6,74.0 418.5,70.0C419.4,66.0 420.6,62.2 421.7,60.0C422.8,57.8 423.8,57.2 425.0,56.8C426.2,56.4 427.5,55.6 429.0,57.8C430.5,59.9 432.5,65.5 434.0,69.7C435.5,73.9 437.3,81.5 438.2,83.0C439.1,84.5 438.9,82.9 439.5,78.7C440.1,74.5 440.5,63.4 441.9,57.8C443.3,52.1 446.2,47.3 447.9,44.8C449.6,42.2 450.7,42.8 452.0,42.5C453.3,42.2 454.2,41.4 455.9,42.8C457.5,44.2 460.5,47.6 461.9,50.8C463.3,54.0 463.6,60.9 464.4,61.8C465.2,62.7 465.8,60.5 466.5,56.0C467.2,51.5 467.9,40.2 468.8,34.9C469.7,29.5 470.6,26.7 471.8,23.9C473.0,21.1 474.0,19.6 475.8,18.0C477.6,16.4 480.6,15.0 482.8,14.2C485.0,13.4 486.0,13.6 488.9,13.4C491.8,13.2 491.8,13.1 499.9,13.0C508.0,12.9 531.4,12.7 537.7,12.6" stroke="#EDB120" stroke-width="1.55"/>
<circle cx="321.0" cy="12.6" r="2.15" fill="#EDB120"/>
<circle cx="365.8" cy="13.0" r="2.15" fill="#EDB120"/>
<circle cx="382.7" cy="16.6" r="2.15" fill="#EDB120"/>
<circle cx="394.7" cy="37.9" r="2.15" fill="#EDB120"/>
<circle cx="397.6" cy="55.8" r="2.15" fill="#EDB120"/>
<circle cx="400.6" cy="62.3" r="2.15" fill="#EDB120"/>
<circle cx="413.2" cy="66.3" r="2.15" fill="#EDB120"/>
<circle cx="416.0" cy="84.0" r="2.15" fill="#EDB120"/>
<circle cx="421.7" cy="60.0" r="2.15" fill="#EDB120"/>
<circle cx="429.0" cy="57.8" r="2.15" fill="#EDB120"/>
<circle cx="434.0" cy="69.7" r="2.15" fill="#EDB120"/>
<circle cx="438.2" cy="83.0" r="2.15" fill="#EDB120"/>
<circle cx="441.9" cy="57.8" r="2.15" fill="#EDB120"/>
<circle cx="447.9" cy="44.8" r="2.15" fill="#EDB120"/>
<circle cx="455.9" cy="42.8" r="2.15" fill="#EDB120"/>
<circle cx="461.9" cy="50.8" r="2.15" fill="#EDB120"/>
<circle cx="464.4" cy="61.8" r="2.15" fill="#EDB120"/>
<circle cx="466.8" cy="55.8" r="2.15" fill="#EDB120"/>
<circle cx="468.8" cy="34.9" r="2.15" fill="#EDB120"/>
<circle cx="473.0" cy="18.8" r="2.15" fill="#EDB120"/>
<circle cx="488.9" cy="13.4" r="2.15" fill="#EDB120"/>
<circle cx="499.9" cy="13.0" r="2.15" fill="#EDB120"/>
<line x1="471.7" y1="127.2" x2="491.7" y2="127.2" stroke="#0072BD" stroke-width="1.5" stroke-dasharray="5,5"/>
<path d="M481.7,124.6L483.8,127.2L481.7,129.8L479.7,127.2Z" fill="none" stroke="#0072BD" stroke-width="1.4"/>
<line x1="471.7" y1="137.5" x2="491.7" y2="137.5" stroke="#7E2F8E" stroke-width="1.55" stroke-dasharray="5,5"/>
<circle cx="481.7" cy="137.5" r="2.15" fill="#7E2F8E"/>
<line x1="471.7" y1="147.8" x2="491.7" y2="147.8" stroke="#A2142F" stroke-width="1.4"/>
<circle cx="481.7" cy="147.8" r="2.15" fill="#A2142F"/>
<line x1="471.7" y1="158.1" x2="491.7" y2="158.1" stroke="#EDB120" stroke-width="1.55"/>
<circle cx="481.7" cy="158.1" r="2.15" fill="#EDB120"/>
<rect x="471.7" y="164.7" width="20" height="7.4" fill="#FEF5E6" stroke="#a8a8a8" stroke-width="1"/>
<defs><clipPath id="clipc"><rect x="40.9" y="232.7" width="216.9" height="170.40000000000003"/></clipPath></defs>
<rect x="95.8" y="235.7" width="95.1" height="167.4" fill="#E3F0F8" stroke="#a8a8a8" stroke-width="1"/>
<rect x="40.9" y="235.7" width="216.9" height="167.4" fill="none" stroke="#b4b4b4" stroke-width="1.1"/>
<path d="M40.9,403.1v-2M40.9,235.7v2M77.1,403.1v-2M77.1,235.7v2M113.2,403.1v-2M113.2,235.7v2M149.4,403.1v-2M149.4,235.7v2M185.5,403.1v-2M185.5,235.7v2M221.7,403.1v-2M221.7,235.7v2M257.8,403.1v-2M257.8,235.7v2M40.9,235.7h2M257.8,235.7h-2M40.9,269.2h2M257.8,269.2h-2M40.9,302.7h2M257.8,302.7h-2M40.9,336.1h2M257.8,336.1h-2M40.9,369.6h2M257.8,369.6h-2M40.9,403.1h2M257.8,403.1h-2" stroke="#b4b4b4" stroke-width="0.8" fill="none"/>
<path clip-path="url(#clipc)" fill="none" stroke-linejoin="round" d="M40.9,236.8C45.4,236.8 61.9,236.9 67.9,237.0C73.9,237.1 74.3,237.3 76.8,237.6C79.3,237.9 81.0,238.1 82.8,239.0C84.6,239.9 86.3,240.8 87.8,243.0C89.3,245.2 90.8,248.8 91.8,252.0C92.8,255.2 93.2,258.9 94.0,262.0C94.8,265.1 95.8,269.4 96.8,270.8C97.8,272.2 98.8,271.6 99.8,270.3C100.8,269.0 101.8,264.9 103.0,263.0C104.2,261.1 105.5,259.4 106.7,258.9C107.9,258.4 108.8,259.3 110.0,260.0C111.2,260.7 112.5,261.2 113.7,262.9C114.9,264.6 116.0,267.2 117.0,270.0C118.0,272.8 118.9,276.1 119.9,279.8C120.9,283.5 121.8,287.0 123.0,292.0C124.2,297.0 125.9,308.0 126.9,309.7C127.9,311.4 128.2,305.6 129.0,302.0C129.8,298.4 130.9,292.0 131.9,287.8C132.9,283.6 133.5,279.3 134.8,276.8C136.1,274.3 138.4,273.4 139.8,272.8C141.2,272.2 141.8,272.5 143.0,273.0C144.2,273.5 145.6,273.7 146.8,275.8C148.0,277.9 149.0,282.4 150.0,285.8C151.0,289.2 151.8,293.7 153.0,296.0C154.2,298.3 156.0,300.4 157.0,299.7C158.0,299.0 158.3,295.3 159.0,292.0C159.7,288.7 160.2,283.8 161.0,279.8C161.8,275.8 162.5,271.5 164.0,267.8C165.5,264.1 168.3,260.2 170.0,257.9C171.7,255.6 172.4,254.6 173.9,253.9C175.4,253.2 177.3,253.3 179.0,254.0C180.7,254.7 182.8,255.6 184.3,257.9C185.8,260.2 187.1,265.4 187.8,267.8C188.6,270.2 188.4,272.3 188.8,272.3C189.2,272.3 189.8,270.4 190.5,268.0C191.2,265.6 191.7,262.1 192.8,257.9C194.0,253.7 195.7,246.2 197.4,243.0C199.1,239.8 201.1,240.0 203.0,239.0C204.9,238.0 205.2,237.4 208.9,237.0C212.6,236.6 219.3,236.6 225.0,236.5C230.7,236.4 237.3,236.3 242.8,236.3C248.3,236.3 255.3,236.3 257.8,236.3" stroke="#0072BD" stroke-width="1.5" stroke-dasharray="5,5"/>
<path d="M67.9,234.4L70.0,237.0L67.9,239.6L65.9,237.0Z" fill="none" stroke="#0072BD" stroke-width="1.4"/>
<path d="M76.8,235.0L78.8,237.6L76.8,240.2L74.8,237.6Z" fill="none" stroke="#0072BD" stroke-width="1.4"/>
<path d="M82.8,236.4L84.8,239.0L82.8,241.6L80.8,239.0Z" fill="none" stroke="#0072BD" stroke-width="1.4"/>
<path d="M87.8,240.4L89.8,243.0L87.8,245.6L85.8,243.0Z" fill="none" stroke="#0072BD" stroke-width="1.4"/>
<path d="M91.8,249.4L93.8,252.0L91.8,254.6L89.8,252.0Z" fill="none" stroke="#0072BD" stroke-width="1.4"/>
<path d="M96.8,268.2L98.8,270.8L96.8,273.4L94.8,270.8Z" fill="none" stroke="#0072BD" stroke-width="1.4"/>
<path d="M99.8,267.7L101.8,270.3L99.8,272.9L97.8,270.3Z" fill="none" stroke="#0072BD" stroke-width="1.4"/>
<path d="M106.7,256.3L108.8,258.9L106.7,261.5L104.7,258.9Z" fill="none" stroke="#0072BD" stroke-width="1.4"/>
<path d="M113.7,260.3L115.8,262.9L113.7,265.5L111.7,262.9Z" fill="none" stroke="#0072BD" stroke-width="1.4"/>
<path d="M119.9,277.2L122.0,279.8L119.9,282.4L117.9,279.8Z" fill="none" stroke="#0072BD" stroke-width="1.4"/>
<path d="M126.9,307.1L129.0,309.7L126.9,312.3L124.9,309.7Z" fill="none" stroke="#0072BD" stroke-width="1.4"/>
<path d="M134.8,274.2L136.9,276.8L134.8,279.4L132.8,276.8Z" fill="none" stroke="#0072BD" stroke-width="1.4"/>
<path d="M146.8,273.2L148.9,275.8L146.8,278.4L144.8,275.8Z" fill="none" stroke="#0072BD" stroke-width="1.4"/>
<path d="M157.0,297.1L159.1,299.7L157.0,302.3L154.9,299.7Z" fill="none" stroke="#0072BD" stroke-width="1.4"/>
<path d="M164.0,265.2L166.1,267.8L164.0,270.4L161.9,267.8Z" fill="none" stroke="#0072BD" stroke-width="1.4"/>
<path d="M173.9,251.3L176.0,253.9L173.9,256.5L171.8,253.9Z" fill="none" stroke="#0072BD" stroke-width="1.4"/>
<path d="M184.3,255.3L186.4,257.9L184.3,260.5L182.2,257.9Z" fill="none" stroke="#0072BD" stroke-width="1.4"/>
<path d="M198.0,240.4L200.1,243.0L198.0,245.6L195.9,243.0Z" fill="none" stroke="#0072BD" stroke-width="1.4"/>
<path d="M208.9,234.4L211.0,237.0L208.9,239.6L206.8,237.0Z" fill="none" stroke="#0072BD" stroke-width="1.4"/>
<path d="M242.8,233.7L244.9,236.3L242.8,238.9L240.8,236.3Z" fill="none" stroke="#0072BD" stroke-width="1.4"/>
<path clip-path="url(#clipc)" fill="none" stroke-linejoin="round" d="M40.9,364.1C42.6,361.5 47.6,353.9 51.0,348.5C54.4,343.1 58.2,336.4 61.0,331.5C63.8,326.6 65.2,324.2 67.7,318.9C70.2,313.6 73.3,305.5 75.8,299.7C78.3,293.9 80.8,288.8 82.8,283.8C84.8,278.8 86.3,274.2 87.8,269.8C89.3,265.4 90.5,261.0 91.8,257.5C93.1,254.0 94.3,250.8 95.8,248.9C97.3,247.0 98.9,246.6 100.7,245.9C102.5,245.2 104.7,245.5 106.7,244.9C108.7,244.3 109.5,243.0 112.9,242.3C116.3,241.7 123.2,241.1 126.9,241.0C130.6,240.9 131.5,241.4 134.8,241.5C138.1,241.6 143.0,241.7 146.8,241.5C150.6,241.3 154.7,240.2 157.7,240.4C160.7,240.7 162.3,242.1 165.0,243.0C167.7,243.9 171.1,245.2 173.9,245.9C176.7,246.6 179.5,246.7 182.0,247.0C184.5,247.3 187.0,247.1 188.8,247.9C190.6,248.7 191.3,249.2 192.8,251.9C194.3,254.6 196.0,259.2 197.8,263.9C199.6,268.5 201.8,274.5 203.8,279.8C205.8,285.1 207.8,290.7 209.8,295.7C211.8,300.7 214.1,306.3 215.8,310.0C217.5,313.7 217.6,313.7 220.0,318.0C222.4,322.3 226.1,330.1 230.0,336.0C233.9,341.9 238.7,347.6 243.4,353.5C248.1,359.4 255.7,368.6 258.2,371.6" stroke="#7E2F8E" stroke-width="1.55" stroke-dasharray="5,5"/>
<circle cx="67.7" cy="318.9" r="2.15" fill="#7E2F8E"/>
<circle cx="75.8" cy="299.7" r="2.15" fill="#7E2F8E"/>
<circle cx="82.8" cy="283.8" r="2.15" fill="#7E2F8E"/>
<circle cx="87.8" cy="269.8" r="2.15" fill="#7E2F8E"/>
<circle cx="91.8" cy="257.5" r="2.15" fill="#7E2F8E"/>
<circle cx="95.8" cy="248.9" r="2.15" fill="#7E2F8E"/>
<circle cx="100.7" cy="245.9" r="2.15" fill="#7E2F8E"/>
<circle cx="107.0" cy="243.9" r="2.15" fill="#7E2F8E"/>
<circle cx="112.9" cy="242.3" r="2.15" fill="#7E2F8E"/>
<circle cx="126.9" cy="241.0" r="2.15" fill="#7E2F8E"/>
<circle cx="134.8" cy="241.5" r="2.15" fill="#7E2F8E"/>
<circle cx="146.8" cy="241.5" r="2.15" fill="#7E2F8E"/>
<circle cx="157.7" cy="240.4" r="2.15" fill="#7E2F8E"/>
<circle cx="173.9" cy="245.9" r="2.15" fill="#7E2F8E"/>
<circle cx="188.8" cy="247.9" r="2.15" fill="#7E2F8E"/>
<circle cx="192.8" cy="251.9" r="2.15" fill="#7E2F8E"/>
<circle cx="197.8" cy="263.9" r="2.15" fill="#7E2F8E"/>
<circle cx="203.8" cy="279.8" r="2.15" fill="#7E2F8E"/>
<circle cx="209.8" cy="295.7" r="2.15" fill="#7E2F8E"/>
<circle cx="243.4" cy="353.5" r="2.15" fill="#7E2F8E"/>
<path clip-path="url(#clipc)" fill="none" stroke-linejoin="round" d="M40.9,386.0C41.0,385.5 40.2,385.6 41.8,383.2C43.4,380.8 48.1,374.8 50.3,371.6C52.5,368.4 53.1,366.8 55.0,364.0C56.9,361.2 59.6,358.1 61.8,354.6C64.0,351.1 65.8,347.1 68.0,343.0C70.2,338.9 73.2,334.4 75.2,330.2C77.2,326.0 78.1,322.9 80.0,318.0C81.9,313.1 85.0,305.7 86.8,300.7C88.6,295.7 89.5,292.3 91.0,288.0C92.5,283.7 94.1,279.7 95.8,274.8C97.5,269.9 99.6,263.5 101.3,258.9C103.0,254.2 103.8,250.1 105.7,246.9C107.6,243.8 109.9,241.7 112.9,240.0C115.9,238.3 119.9,237.6 123.9,237.0C127.9,236.4 132.4,236.4 136.8,236.4C141.2,236.4 146.0,236.4 150.4,237.0C154.8,237.6 159.2,239.0 163.0,240.0C166.8,241.0 170.2,241.6 173.5,242.9C176.8,244.2 180.2,245.6 182.9,247.9C185.6,250.2 187.8,253.2 189.8,256.9C191.8,260.5 193.4,266.6 194.8,269.8C196.2,273.0 196.3,272.5 198.0,275.8C199.7,279.1 202.4,284.5 204.9,289.8C207.4,295.1 210.7,302.3 212.9,307.7C215.1,313.1 216.3,317.6 218.0,322.0C219.7,326.4 221.2,329.6 223.2,333.8C225.2,338.0 227.9,342.9 230.0,347.0C232.1,351.1 233.5,354.9 236.0,358.4C238.5,361.9 241.7,364.9 245.0,368.0C248.3,371.1 254.0,375.2 256.1,376.9C258.2,378.6 257.5,377.8 257.8,378.0" stroke="#A2142F" stroke-width="1.4"/>
<path d="M41.8,380.2L44.8,385.4L38.8,385.4Z" fill="#A2142F" stroke="#A2142F" stroke-width="0.7" stroke-linejoin="round"/>
<path d="M50.3,368.6L53.3,373.8L47.3,373.8Z" fill="#A2142F" stroke="#A2142F" stroke-width="0.7" stroke-linejoin="round"/>
<path d="M61.8,351.6L64.8,356.8L58.8,356.8Z" fill="#A2142F" stroke="#A2142F" stroke-width="0.7" stroke-linejoin="round"/>
<path d="M75.2,327.2L78.2,332.4L72.2,332.4Z" fill="#A2142F" stroke="#A2142F" stroke-width="0.7" stroke-linejoin="round"/>
<path d="M86.8,297.7L89.8,302.9L83.8,302.9Z" fill="#A2142F" stroke="#A2142F" stroke-width="0.7" stroke-linejoin="round"/>
<path d="M95.8,271.8L98.8,277.0L92.8,277.0Z" fill="#A2142F" stroke="#A2142F" stroke-width="0.7" stroke-linejoin="round"/>
<path d="M101.3,255.9L104.3,261.1L98.3,261.1Z" fill="#A2142F" stroke="#A2142F" stroke-width="0.7" stroke-linejoin="round"/>
<path d="M105.7,243.9L108.7,249.1L102.7,249.1Z" fill="#A2142F" stroke="#A2142F" stroke-width="0.7" stroke-linejoin="round"/>
<path d="M112.9,237.0L115.9,242.2L109.9,242.2Z" fill="#A2142F" stroke="#A2142F" stroke-width="0.7" stroke-linejoin="round"/>
<path d="M123.9,234.0L126.9,239.2L120.9,239.2Z" fill="#A2142F" stroke="#A2142F" stroke-width="0.7" stroke-linejoin="round"/>
<path d="M136.8,233.4L139.8,238.6L133.8,238.6Z" fill="#A2142F" stroke="#A2142F" stroke-width="0.7" stroke-linejoin="round"/>
<path d="M150.4,234.0L153.4,239.2L147.4,239.2Z" fill="#A2142F" stroke="#A2142F" stroke-width="0.7" stroke-linejoin="round"/>
<path d="M163.0,237.0L166.0,242.2L160.0,242.2Z" fill="#A2142F" stroke="#A2142F" stroke-width="0.7" stroke-linejoin="round"/>
<path d="M173.5,239.9L176.5,245.1L170.5,245.1Z" fill="#A2142F" stroke="#A2142F" stroke-width="0.7" stroke-linejoin="round"/>
<path d="M182.9,244.9L185.9,250.1L179.9,250.1Z" fill="#A2142F" stroke="#A2142F" stroke-width="0.7" stroke-linejoin="round"/>
<path d="M189.8,253.9L192.8,259.1L186.8,259.1Z" fill="#A2142F" stroke="#A2142F" stroke-width="0.7" stroke-linejoin="round"/>
<path d="M194.8,266.8L197.8,272.0L191.8,272.0Z" fill="#A2142F" stroke="#A2142F" stroke-width="0.7" stroke-linejoin="round"/>
<path d="M198.0,272.8L201.0,278.0L195.0,278.0Z" fill="#A2142F" stroke="#A2142F" stroke-width="0.7" stroke-linejoin="round"/>
<path d="M204.9,286.8L207.9,292.0L201.9,292.0Z" fill="#A2142F" stroke="#A2142F" stroke-width="0.7" stroke-linejoin="round"/>
<path d="M212.9,304.7L215.9,309.9L209.9,309.9Z" fill="#A2142F" stroke="#A2142F" stroke-width="0.7" stroke-linejoin="round"/>
<path d="M223.2,330.8L226.2,336.0L220.2,336.0Z" fill="#A2142F" stroke="#A2142F" stroke-width="0.7" stroke-linejoin="round"/>
<path d="M236.0,355.4L239.0,360.6L233.0,360.6Z" fill="#A2142F" stroke="#A2142F" stroke-width="0.7" stroke-linejoin="round"/>
<path d="M256.1,373.9L259.1,379.1L253.1,379.1Z" fill="#A2142F" stroke="#A2142F" stroke-width="0.7" stroke-linejoin="round"/>
<path clip-path="url(#clipc)" fill="none" stroke-linejoin="round" d="M40.9,239.6C46.2,239.6 66.4,239.4 72.9,239.6C79.4,239.8 77.5,239.9 80.0,240.5C82.5,241.1 85.8,242.1 87.8,243.0C89.8,243.9 90.7,244.8 92.0,246.0C93.3,247.2 94.8,248.2 95.8,250.0C96.8,251.8 97.3,255.0 98.0,257.0C98.7,259.0 99.2,259.5 100.0,262.0C100.8,264.5 101.8,269.7 102.7,271.8C103.7,273.9 104.8,274.1 105.7,274.8C106.6,275.5 107.2,275.8 108.0,276.0C108.8,276.2 109.6,275.5 110.7,275.8C111.8,276.1 113.7,276.6 114.7,277.8C115.8,279.0 116.3,281.0 117.0,283.0C117.7,285.0 118.1,287.1 118.9,289.8C119.7,292.5 121.0,296.0 122.0,299.0C123.0,302.0 123.9,305.3 124.9,307.7C125.9,310.1 127.0,312.2 128.0,313.5C129.0,314.8 130.0,315.7 130.9,315.6C131.8,315.5 132.5,314.3 133.5,313.0C134.5,311.7 135.6,311.4 136.8,307.7C138.0,304.0 138.6,294.7 140.8,290.7C143.0,286.7 147.0,286.4 150.0,283.8C153.0,281.2 156.0,277.3 159.0,274.8C162.0,272.3 165.6,269.6 168.0,268.8C170.4,268.0 171.8,267.4 173.5,269.8C175.2,272.2 176.3,278.2 178.0,283.0C179.7,287.8 182.2,298.4 183.5,298.7C184.8,299.0 185.2,290.1 186.0,285.0C186.8,279.9 187.2,272.6 188.0,267.8C188.8,263.1 189.5,260.1 191.0,256.5C192.5,252.8 194.3,248.5 197.0,245.9C199.7,243.3 202.3,242.2 206.9,241.0C211.5,239.8 219.2,239.5 224.8,239.0C230.5,238.5 235.3,238.2 240.8,238.0C246.3,237.8 255.0,237.7 257.8,237.6" stroke="#EDB120" stroke-width="1.55"/>
<rect x="42.3" y="237.9" width="3.4" height="3.4" fill="#F3CB6A" stroke="#EDB120" stroke-width="1"/>
<rect x="71.2" y="237.9" width="3.4" height="3.4" fill="#F3CB6A" stroke="#EDB120" stroke-width="1"/>
<rect x="101.0" y="270.1" width="3.4" height="3.4" fill="#F3CB6A" stroke="#EDB120" stroke-width="1"/>
<rect x="109.0" y="274.1" width="3.4" height="3.4" fill="#F3CB6A" stroke="#EDB120" stroke-width="1"/>
<rect x="117.2" y="288.1" width="3.4" height="3.4" fill="#F3CB6A" stroke="#EDB120" stroke-width="1"/>
<rect x="129.2" y="313.9" width="3.4" height="3.4" fill="#F3CB6A" stroke="#EDB120" stroke-width="1"/>
<rect x="139.1" y="289.0" width="3.4" height="3.4" fill="#F3CB6A" stroke="#EDB120" stroke-width="1"/>
<rect x="157.3" y="273.1" width="3.4" height="3.4" fill="#F3CB6A" stroke="#EDB120" stroke-width="1"/>
<rect x="171.8" y="268.1" width="3.4" height="3.4" fill="#F3CB6A" stroke="#EDB120" stroke-width="1"/>
<rect x="181.8" y="297.0" width="3.4" height="3.4" fill="#F3CB6A" stroke="#EDB120" stroke-width="1"/>
<rect x="205.2" y="239.3" width="3.4" height="3.4" fill="#F3CB6A" stroke="#EDB120" stroke-width="1"/>
<rect x="239.1" y="236.3" width="3.4" height="3.4" fill="#F3CB6A" stroke="#EDB120" stroke-width="1"/>
<line x1="191.8" y1="350.4" x2="211.8" y2="350.4" stroke="#0072BD" stroke-width="1.5" stroke-dasharray="5,5"/>
<path d="M201.8,347.8L203.9,350.4L201.8,353.0L199.8,350.4Z" fill="none" stroke="#0072BD" stroke-width="1.4"/>
<line x1="191.8" y1="360.7" x2="211.8" y2="360.7" stroke="#7E2F8E" stroke-width="1.55" stroke-dasharray="5,5"/>
<circle cx="201.8" cy="360.7" r="2.15" fill="#7E2F8E"/>
<line x1="191.8" y1="371.0" x2="211.8" y2="371.0" stroke="#A2142F" stroke-width="1.4"/>
<path d="M201.8,368.0L204.8,373.2L198.8,373.2Z" fill="#A2142F" stroke="#A2142F" stroke-width="0.7" stroke-linejoin="round"/>
<line x1="191.8" y1="381.3" x2="211.8" y2="381.3" stroke="#EDB120" stroke-width="1.55"/>
<rect x="200.1" y="379.6" width="3.4" height="3.4" fill="#F3CB6A" stroke="#EDB120" stroke-width="1"/>
<rect x="191.8" y="387.9" width="20" height="7.4" fill="#E3F0F8" stroke="#a8a8a8" stroke-width="1"/>
<defs><clipPath id="clipd"><rect x="320.7" y="232.7" width="216.90000000000003" height="170.3"/></clipPath></defs>
<rect x="388.4" y="235.7" width="74.5" height="167.3" fill="#F3E8F2" stroke="#a8a8a8" stroke-width="1"/>
<line x1="463.3" y1="235.7" x2="463.3" y2="403.0" stroke="#a0a0a0" stroke-width="1.6"/>
<rect x="320.7" y="235.7" width="216.9" height="167.3" fill="none" stroke="#b4b4b4" stroke-width="1.1"/>
<path d="M324.2,403.0v-2M324.2,235.7v2M359.7,403.0v-2M359.7,235.7v2M395.2,403.0v-2M395.2,235.7v2M430.7,403.0v-2M430.7,235.7v2M466.2,403.0v-2M466.2,235.7v2M501.6,403.0v-2M501.6,235.7v2M537.1,403.0v-2M537.1,235.7v2M320.7,235.7h2M537.6,235.7h-2M320.7,269.2h2M537.6,269.2h-2M320.7,302.6h2M537.6,302.6h-2M320.7,336.1h2M537.6,336.1h-2M320.7,369.5h2M537.6,369.5h-2M320.7,403.0h2M537.6,403.0h-2" stroke="#b4b4b4" stroke-width="0.8" fill="none"/>
<path clip-path="url(#clipd)" fill="none" stroke-linejoin="round" d="M320.7,237.0C326.4,237.3 347.4,238.5 354.9,239.0C362.4,239.5 362.3,239.6 365.8,240.0C369.3,240.4 373.1,240.8 375.8,241.5C378.5,242.2 380.2,243.1 382.0,244.5C383.8,245.9 385.3,248.0 386.7,249.9C388.1,251.8 389.3,253.5 390.5,256.0C391.7,258.5 392.8,262.8 394.0,264.9C395.2,267.0 396.7,267.7 398.0,268.5C399.3,269.3 400.6,268.2 401.9,269.8C403.2,271.4 404.5,275.2 406.0,278.0C407.5,280.8 409.6,285.6 410.9,286.8C412.1,288.0 412.5,285.7 413.5,285.0C414.5,284.3 415.7,284.3 416.9,282.8C418.1,281.3 419.8,276.9 420.9,275.8C422.0,274.8 422.7,275.8 423.5,276.5C424.3,277.2 424.8,276.6 425.8,279.8C426.9,283.0 428.7,289.2 429.8,295.7C430.9,302.1 431.7,316.6 432.5,318.5C433.3,320.4 433.9,312.1 434.5,307.0C435.1,301.9 435.2,294.0 436.0,287.8C436.8,281.6 437.7,275.0 439.0,269.8C440.3,264.6 442.6,259.7 443.9,256.9C445.2,254.1 445.8,253.5 447.0,253.0C448.2,252.5 449.6,252.1 450.9,253.9C452.2,255.7 453.7,259.9 454.9,263.9C456.1,267.9 457.2,275.8 457.9,277.8C458.6,279.8 458.5,278.0 459.0,276.0C459.5,274.0 460.1,270.1 460.9,265.8C461.7,261.5 463.0,253.8 464.0,250.0C465.0,246.2 465.5,244.7 466.8,242.9C468.1,241.1 469.0,240.0 471.8,239.0C474.6,238.0 478.1,237.4 483.8,237.0C489.5,236.6 496.8,236.5 505.8,236.4C514.8,236.3 532.3,236.2 537.6,236.2" stroke="#0072BD" stroke-width="1.5" stroke-dasharray="5,5"/>
<path d="M322.0,234.4L324.1,237.0L322.0,239.6L319.9,237.0Z" fill="none" stroke="#0072BD" stroke-width="1.4"/>
<path d="M354.9,236.4L356.9,239.0L354.9,241.6L352.8,239.0Z" fill="none" stroke="#0072BD" stroke-width="1.4"/>
<path d="M365.8,237.4L367.9,240.0L365.8,242.6L363.8,240.0Z" fill="none" stroke="#0072BD" stroke-width="1.4"/>
<path d="M375.8,238.9L377.9,241.5L375.8,244.1L373.8,241.5Z" fill="none" stroke="#0072BD" stroke-width="1.4"/>
<path d="M386.7,247.3L388.8,249.9L386.7,252.5L384.6,249.9Z" fill="none" stroke="#0072BD" stroke-width="1.4"/>
<path d="M390.5,253.4L392.6,256.0L390.5,258.6L388.4,256.0Z" fill="none" stroke="#0072BD" stroke-width="1.4"/>
<path d="M394.0,262.3L396.1,264.9L394.0,267.5L391.9,264.9Z" fill="none" stroke="#0072BD" stroke-width="1.4"/>
<path d="M401.9,267.2L403.9,269.8L401.9,272.4L399.8,269.8Z" fill="none" stroke="#0072BD" stroke-width="1.4"/>
<path d="M410.9,284.2L412.9,286.8L410.9,289.4L408.8,286.8Z" fill="none" stroke="#0072BD" stroke-width="1.4"/>
<path d="M416.9,280.2L418.9,282.8L416.9,285.4L414.8,282.8Z" fill="none" stroke="#0072BD" stroke-width="1.4"/>
<path d="M420.9,273.2L422.9,275.8L420.9,278.4L418.8,275.8Z" fill="none" stroke="#0072BD" stroke-width="1.4"/>
<path d="M425.8,277.2L427.9,279.8L425.8,282.4L423.8,279.8Z" fill="none" stroke="#0072BD" stroke-width="1.4"/>
<path d="M429.8,293.1L431.9,295.7L429.8,298.3L427.8,295.7Z" fill="none" stroke="#0072BD" stroke-width="1.4"/>
<path d="M434.5,304.4L436.6,307.0L434.5,309.6L432.4,307.0Z" fill="none" stroke="#0072BD" stroke-width="1.4"/>
<path d="M439.0,267.2L441.1,269.8L439.0,272.4L436.9,269.8Z" fill="none" stroke="#0072BD" stroke-width="1.4"/>
<path d="M443.9,254.3L445.9,256.9L443.9,259.5L441.8,256.9Z" fill="none" stroke="#0072BD" stroke-width="1.4"/>
<path d="M450.9,251.3L452.9,253.9L450.9,256.5L448.8,253.9Z" fill="none" stroke="#0072BD" stroke-width="1.4"/>
<path d="M454.9,261.3L456.9,263.9L454.9,266.5L452.8,263.9Z" fill="none" stroke="#0072BD" stroke-width="1.4"/>
<path d="M457.9,275.2L459.9,277.8L457.9,280.4L455.8,277.8Z" fill="none" stroke="#0072BD" stroke-width="1.4"/>
<path d="M466.8,240.3L468.9,242.9L466.8,245.5L464.8,242.9Z" fill="none" stroke="#0072BD" stroke-width="1.4"/>
<path d="M471.8,236.4L473.9,239.0L471.8,241.6L469.8,239.0Z" fill="none" stroke="#0072BD" stroke-width="1.4"/>
<path d="M483.8,234.4L485.9,237.0L483.8,239.6L481.8,237.0Z" fill="none" stroke="#0072BD" stroke-width="1.4"/>
<path d="M505.8,233.8L507.9,236.4L505.8,239.0L503.8,236.4Z" fill="none" stroke="#0072BD" stroke-width="1.4"/>
<path clip-path="url(#clipd)" fill="none" stroke-linejoin="round" d="M320.7,364.3C322.2,364.1 326.9,363.7 330.0,363.4C333.1,363.1 336.2,362.9 339.2,362.4C342.1,361.9 345.0,361.5 347.7,360.3C350.4,359.1 353.1,357.4 355.2,355.2C357.3,353.0 358.6,350.6 360.5,347.2C362.4,343.8 364.9,339.4 366.8,335.0C368.7,330.6 370.4,325.2 372.1,320.6C373.8,316.1 375.3,312.5 376.8,307.7C378.3,302.9 379.5,297.5 381.0,292.0C382.5,286.5 384.7,279.3 386.0,274.8C387.3,270.3 387.8,267.5 389.0,264.9C390.2,262.2 391.5,260.9 393.0,258.9C394.5,256.9 396.4,254.6 398.0,252.9C399.6,251.2 401.1,250.1 402.9,248.9C404.7,247.7 406.6,246.7 408.9,245.9C411.2,245.1 414.2,244.6 416.9,244.3C419.5,244.0 422.5,243.9 424.8,243.9C427.1,243.9 428.6,243.8 430.8,244.3C433.0,244.8 435.5,246.0 437.8,246.9C440.1,247.8 442.7,248.9 444.9,249.9C447.1,250.9 448.9,252.2 450.9,252.9C452.9,253.6 455.2,252.7 456.9,253.9C458.6,255.1 459.7,257.2 460.9,259.9C462.1,262.6 462.9,265.7 464.0,270.0C465.1,274.3 466.3,280.4 467.8,285.8C469.3,291.2 471.1,297.7 472.8,302.7C474.5,307.7 476.1,310.5 477.9,315.6C479.7,320.7 481.1,326.7 483.8,333.4C486.5,340.1 490.2,347.8 494.0,355.6C497.8,363.4 502.6,372.2 506.3,380.0C510.0,387.8 514.5,398.4 516.3,402.4C518.1,406.4 516.9,403.7 517.0,404.0" stroke="#7E2F8E" stroke-width="1.55" stroke-dasharray="5,5"/>
<circle cx="322.2" cy="364.1" r="2.15" fill="#7E2F8E"/>
<circle cx="355.2" cy="355.2" r="2.15" fill="#7E2F8E"/>
<circle cx="366.8" cy="335.0" r="2.15" fill="#7E2F8E"/>
<circle cx="376.8" cy="307.7" r="2.15" fill="#7E2F8E"/>
<circle cx="386.0" cy="274.8" r="2.15" fill="#7E2F8E"/>
<circle cx="389.0" cy="264.9" r="2.15" fill="#7E2F8E"/>
<circle cx="393.0" cy="258.9" r="2.15" fill="#7E2F8E"/>
<circle cx="398.0" cy="252.9" r="2.15" fill="#7E2F8E"/>
<circle cx="402.9" cy="248.9" r="2.15" fill="#7E2F8E"/>
<circle cx="408.9" cy="245.9" r="2.15" fill="#7E2F8E"/>
<circle cx="416.9" cy="244.3" r="2.15" fill="#7E2F8E"/>
<circle cx="424.8" cy="243.9" r="2.15" fill="#7E2F8E"/>
<circle cx="430.8" cy="244.3" r="2.15" fill="#7E2F8E"/>
<circle cx="437.8" cy="246.9" r="2.15" fill="#7E2F8E"/>
<circle cx="444.9" cy="249.9" r="2.15" fill="#7E2F8E"/>
<circle cx="450.9" cy="252.9" r="2.15" fill="#7E2F8E"/>
<circle cx="456.9" cy="253.9" r="2.15" fill="#7E2F8E"/>
<circle cx="460.9" cy="259.9" r="2.15" fill="#7E2F8E"/>
<circle cx="472.8" cy="302.7" r="2.15" fill="#7E2F8E"/>
<circle cx="483.8" cy="333.4" r="2.15" fill="#7E2F8E"/>
<circle cx="506.3" cy="380.0" r="2.15" fill="#7E2F8E"/>
<path clip-path="url(#clipd)" fill="none" stroke-linejoin="round" d="M349.8,403.4C350.6,402.3 352.8,399.1 354.5,396.6C356.2,394.1 358.1,391.2 360.0,388.5C361.9,385.8 364.0,383.2 365.8,380.1C367.6,377.0 369.4,373.5 371.0,370.0C372.6,366.5 373.8,363.0 375.3,359.3C376.8,355.6 378.6,351.9 380.0,348.0C381.4,344.1 382.6,339.9 383.8,336.1C385.0,332.3 386.0,328.7 387.0,325.0C388.0,321.3 388.9,319.1 390.0,313.7C391.1,308.3 392.2,299.5 393.4,292.7C394.6,285.9 395.8,277.9 397.0,272.8C398.2,267.7 399.6,265.0 400.9,261.9C402.2,258.8 403.4,256.1 404.9,253.9C406.4,251.7 407.9,250.2 409.9,248.9C411.9,247.6 414.4,246.5 416.9,245.9C419.4,245.3 422.1,245.3 424.8,245.5C427.5,245.7 430.0,246.6 432.8,246.9C435.6,247.2 439.1,247.5 441.8,247.5C444.5,247.5 446.5,246.8 448.9,246.9C451.2,247.0 453.6,247.1 455.9,247.9C458.2,248.7 461.0,249.4 462.8,251.9C464.6,254.4 465.5,259.1 466.8,262.9C468.1,266.7 469.3,269.7 470.8,274.8C472.3,279.9 474.4,288.7 475.8,293.7C477.2,298.7 478.2,301.1 479.5,305.0C480.8,308.9 481.4,311.8 483.4,317.4C485.4,323.0 488.6,332.1 491.4,338.7C494.1,345.2 497.0,351.2 499.9,356.7C502.8,362.2 505.8,367.0 508.8,371.6C511.8,376.2 514.7,380.8 517.7,384.3C520.7,387.8 524.5,390.7 526.9,392.8C529.3,394.9 530.6,395.5 532.2,397.0C533.8,398.5 535.5,400.7 536.4,401.7C537.3,402.7 537.4,402.8 537.6,403.0" stroke="#A2142F" stroke-width="1.4"/>
<path d="M354.5,393.6L357.5,398.8L351.5,398.8Z" fill="#A2142F" stroke="#A2142F" stroke-width="0.7" stroke-linejoin="round"/>
<path d="M365.8,377.1L368.8,382.3L362.8,382.3Z" fill="#A2142F" stroke="#A2142F" stroke-width="0.7" stroke-linejoin="round"/>
<path d="M375.3,356.3L378.3,361.5L372.3,361.5Z" fill="#A2142F" stroke="#A2142F" stroke-width="0.7" stroke-linejoin="round"/>
<path d="M383.8,333.1L386.8,338.3L380.8,338.3Z" fill="#A2142F" stroke="#A2142F" stroke-width="0.7" stroke-linejoin="round"/>
<path d="M390.0,310.7L393.0,315.9L387.0,315.9Z" fill="#A2142F" stroke="#A2142F" stroke-width="0.7" stroke-linejoin="round"/>
<path d="M393.4,289.7L396.4,294.9L390.4,294.9Z" fill="#A2142F" stroke="#A2142F" stroke-width="0.7" stroke-linejoin="round"/>
<path d="M397.0,269.8L400.0,275.0L394.0,275.0Z" fill="#A2142F" stroke="#A2142F" stroke-width="0.7" stroke-linejoin="round"/>
<path d="M400.9,258.9L403.9,264.1L397.9,264.1Z" fill="#A2142F" stroke="#A2142F" stroke-width="0.7" stroke-linejoin="round"/>
<path d="M404.9,250.9L407.9,256.1L401.9,256.1Z" fill="#A2142F" stroke="#A2142F" stroke-width="0.7" stroke-linejoin="round"/>
<path d="M409.9,245.9L412.9,251.1L406.9,251.1Z" fill="#A2142F" stroke="#A2142F" stroke-width="0.7" stroke-linejoin="round"/>
<path d="M416.9,242.9L419.9,248.1L413.9,248.1Z" fill="#A2142F" stroke="#A2142F" stroke-width="0.7" stroke-linejoin="round"/>
<path d="M424.8,242.5L427.8,247.7L421.8,247.7Z" fill="#A2142F" stroke="#A2142F" stroke-width="0.7" stroke-linejoin="round"/>
<path d="M432.8,243.9L435.8,249.1L429.8,249.1Z" fill="#A2142F" stroke="#A2142F" stroke-width="0.7" stroke-linejoin="round"/>
<path d="M441.8,244.5L444.8,249.7L438.8,249.7Z" fill="#A2142F" stroke="#A2142F" stroke-width="0.7" stroke-linejoin="round"/>
<path d="M448.9,243.9L451.9,249.1L445.9,249.1Z" fill="#A2142F" stroke="#A2142F" stroke-width="0.7" stroke-linejoin="round"/>
<path d="M455.9,244.9L458.9,250.1L452.9,250.1Z" fill="#A2142F" stroke="#A2142F" stroke-width="0.7" stroke-linejoin="round"/>
<path d="M462.8,248.9L465.8,254.1L459.8,254.1Z" fill="#A2142F" stroke="#A2142F" stroke-width="0.7" stroke-linejoin="round"/>
<path d="M466.8,259.9L469.8,265.1L463.8,265.1Z" fill="#A2142F" stroke="#A2142F" stroke-width="0.7" stroke-linejoin="round"/>
<path d="M470.8,271.8L473.8,277.0L467.8,277.0Z" fill="#A2142F" stroke="#A2142F" stroke-width="0.7" stroke-linejoin="round"/>
<path d="M475.8,290.7L478.8,295.9L472.8,295.9Z" fill="#A2142F" stroke="#A2142F" stroke-width="0.7" stroke-linejoin="round"/>
<path d="M483.4,314.4L486.4,319.6L480.4,319.6Z" fill="#A2142F" stroke="#A2142F" stroke-width="0.7" stroke-linejoin="round"/>
<path d="M491.4,335.7L494.4,340.9L488.4,340.9Z" fill="#A2142F" stroke="#A2142F" stroke-width="0.7" stroke-linejoin="round"/>
<path d="M499.9,353.7L502.9,358.9L496.9,358.9Z" fill="#A2142F" stroke="#A2142F" stroke-width="0.7" stroke-linejoin="round"/>
<path d="M508.8,368.6L511.8,373.8L505.8,373.8Z" fill="#A2142F" stroke="#A2142F" stroke-width="0.7" stroke-linejoin="round"/>
<path d="M517.7,381.3L520.7,386.5L514.7,386.5Z" fill="#A2142F" stroke="#A2142F" stroke-width="0.7" stroke-linejoin="round"/>
<path d="M526.9,389.8L529.9,395.0L523.9,395.0Z" fill="#A2142F" stroke="#A2142F" stroke-width="0.7" stroke-linejoin="round"/>
<path d="M532.2,394.0L535.2,399.2L529.2,399.2Z" fill="#A2142F" stroke="#A2142F" stroke-width="0.7" stroke-linejoin="round"/>
<path clip-path="url(#clipd)" fill="none" stroke-linejoin="round" d="M320.7,237.0C325.4,237.0 340.9,236.9 348.9,237.0C356.9,237.1 362.8,237.3 368.8,237.6C374.8,237.9 380.9,237.8 384.7,239.0C388.5,240.2 390.0,242.4 391.7,244.9C393.4,247.4 393.9,250.1 395.0,253.9C396.1,257.7 396.7,263.7 398.0,267.8C399.3,271.9 401.6,277.3 402.9,278.8C404.2,280.3 404.8,277.7 406.0,277.0C407.2,276.3 408.7,274.8 409.9,274.8C411.1,274.8 412.0,275.8 413.0,277.0C414.0,278.2 414.8,279.0 415.9,281.8C417.0,284.6 418.8,290.6 419.9,293.7C421.0,296.8 421.9,300.3 422.8,300.7C423.7,301.1 424.2,298.6 425.0,296.0C425.8,293.4 426.8,288.5 427.8,284.8C428.8,281.1 429.9,276.2 431.0,274.0C432.1,271.8 433.5,272.0 434.5,271.8C435.5,271.6 436.2,272.0 437.0,273.0C437.8,274.0 438.2,276.0 439.0,278.0C439.8,280.0 440.8,282.0 441.8,284.8C442.8,287.6 443.8,294.5 444.8,294.7C445.8,294.9 446.7,289.4 447.9,285.8C449.1,282.2 450.6,275.5 451.9,272.8C453.2,270.1 454.6,269.3 455.9,269.8C457.2,270.3 458.8,273.3 459.9,275.8C461.0,278.3 461.7,282.4 462.5,285.0C463.3,287.6 464.2,292.2 464.8,291.7C465.4,291.2 465.8,286.0 466.3,282.0C466.8,278.0 467.2,272.7 467.8,267.8C468.4,262.9 468.6,257.0 469.8,252.9C471.0,248.8 472.6,245.3 474.8,243.0C477.0,240.7 478.1,240.0 482.8,239.0C487.5,238.0 496.6,237.4 502.8,237.0C509.0,236.6 515.1,236.6 519.8,236.4C524.4,236.2 527.7,236.1 530.7,236.0C533.7,235.9 536.5,236.0 537.6,236.0" stroke="#EDB120" stroke-width="1.55"/>
<rect x="332.2" y="235.3" width="3.4" height="3.4" fill="#F3CB6A" stroke="#EDB120" stroke-width="1"/>
<rect x="347.2" y="235.3" width="3.4" height="3.4" fill="#F3CB6A" stroke="#EDB120" stroke-width="1"/>
<rect x="367.1" y="235.9" width="3.4" height="3.4" fill="#F3CB6A" stroke="#EDB120" stroke-width="1"/>
<rect x="383.0" y="237.3" width="3.4" height="3.4" fill="#F3CB6A" stroke="#EDB120" stroke-width="1"/>
<rect x="393.3" y="252.2" width="3.4" height="3.4" fill="#F3CB6A" stroke="#EDB120" stroke-width="1"/>
<rect x="401.2" y="277.1" width="3.4" height="3.4" fill="#F3CB6A" stroke="#EDB120" stroke-width="1"/>
<rect x="408.2" y="273.1" width="3.4" height="3.4" fill="#F3CB6A" stroke="#EDB120" stroke-width="1"/>
<rect x="414.2" y="280.1" width="3.4" height="3.4" fill="#F3CB6A" stroke="#EDB120" stroke-width="1"/>
<rect x="418.2" y="292.0" width="3.4" height="3.4" fill="#F3CB6A" stroke="#EDB120" stroke-width="1"/>
<rect x="421.1" y="299.0" width="3.4" height="3.4" fill="#F3CB6A" stroke="#EDB120" stroke-width="1"/>
<rect x="426.3" y="282.1" width="3.4" height="3.4" fill="#F3CB6A" stroke="#EDB120" stroke-width="1"/>
<rect x="432.8" y="270.1" width="3.4" height="3.4" fill="#F3CB6A" stroke="#EDB120" stroke-width="1"/>
<rect x="440.1" y="283.1" width="3.4" height="3.4" fill="#F3CB6A" stroke="#EDB120" stroke-width="1"/>
<rect x="443.1" y="293.0" width="3.4" height="3.4" fill="#F3CB6A" stroke="#EDB120" stroke-width="1"/>
<rect x="450.2" y="271.1" width="3.4" height="3.4" fill="#F3CB6A" stroke="#EDB120" stroke-width="1"/>
<rect x="454.2" y="268.1" width="3.4" height="3.4" fill="#F3CB6A" stroke="#EDB120" stroke-width="1"/>
<rect x="458.2" y="274.1" width="3.4" height="3.4" fill="#F3CB6A" stroke="#EDB120" stroke-width="1"/>
<rect x="463.1" y="290.0" width="3.4" height="3.4" fill="#F3CB6A" stroke="#EDB120" stroke-width="1"/>
<rect x="468.1" y="251.2" width="3.4" height="3.4" fill="#F3CB6A" stroke="#EDB120" stroke-width="1"/>
<rect x="473.3" y="241.3" width="3.4" height="3.4" fill="#F3CB6A" stroke="#EDB120" stroke-width="1"/>
<rect x="501.1" y="235.3" width="3.4" height="3.4" fill="#F3CB6A" stroke="#EDB120" stroke-width="1"/>
<rect x="518.1" y="234.7" width="3.4" height="3.4" fill="#F3CB6A" stroke="#EDB120" stroke-width="1"/>
<rect x="529.0" y="234.3" width="3.4" height="3.4" fill="#F3CB6A" stroke="#EDB120" stroke-width="1"/>
<line x1="471.6" y1="246.5" x2="491.6" y2="246.5" stroke="#0072BD" stroke-width="1.5" stroke-dasharray="5,5"/>
<path d="M481.6,243.9L483.7,246.5L481.6,249.1L479.6,246.5Z" fill="none" stroke="#0072BD" stroke-width="1.4"/>
<line x1="471.6" y1="256.8" x2="491.6" y2="256.8" stroke="#7E2F8E" stroke-width="1.55" stroke-dasharray="5,5"/>
<circle cx="481.6" cy="256.8" r="2.15" fill="#7E2F8E"/>
<line x1="471.6" y1="267.1" x2="491.6" y2="267.1" stroke="#A2142F" stroke-width="1.4"/>
<path d="M481.6,264.1L484.6,269.3L478.6,269.3Z" fill="#A2142F" stroke="#A2142F" stroke-width="0.7" stroke-linejoin="round"/>
<line x1="471.6" y1="277.4" x2="491.6" y2="277.4" stroke="#EDB120" stroke-width="1.55"/>
<rect x="479.9" y="275.7" width="3.4" height="3.4" fill="#F3CB6A" stroke="#EDB120" stroke-width="1"/>
<rect x="471.6" y="284.0" width="20" height="7.4" fill="#F3E8F2" stroke="#a8a8a8" stroke-width="1"/>
<g fill="#262626" stroke="#262626" stroke-width="0.2" style="filter:grayscale(1)"><text x="40.8" y="191.8" font-size="9.4" text-anchor="middle">1.8</text>
<text x="77.0" y="191.8" font-size="9.4" text-anchor="middle">1.9</text>
<text x="113.1" y="191.8" font-size="9.4" text-anchor="middle">2</text>
<text x="149.2" y="191.8" font-size="9.4" text-anchor="middle">2.1</text>
<text x="185.4" y="191.8" font-size="9.4" text-anchor="middle">2.2</text>
<text x="221.5" y="191.8" font-size="9.4" text-anchor="middle">2.3</text>
<text x="257.7" y="191.8" font-size="9.4" text-anchor="middle">2.4</text>
<text x="37.6" y="15.5" font-size="9.4" text-anchor="end">0</text>
<text x="37.6" y="49.0" font-size="9.4" text-anchor="end">-10</text>
<text x="37.6" y="82.5" font-size="9.4" text-anchor="end">-20</text>
<text x="37.6" y="116.1" font-size="9.4" text-anchor="end">-30</text>
<text x="37.6" y="149.6" font-size="9.4" text-anchor="end">-40</text>
<text x="37.6" y="183.1" font-size="9.4" text-anchor="end">-50</text>
<text x="149.2" y="205.2" font-size="10.3" text-anchor="middle">Frequency (GHz)</text>
<text x="144.5" y="220.9" font-size="12.6" stroke-width="0.35" fill="#2a2a2a" text-anchor="middle">(a)</text>
<text transform="translate(16.2,95.7) rotate(-90)" font-size="10.8" fill="#3c3c3c" text-anchor="middle">|S<tspan font-size="8.2" dy="3.4">11</tspan><tspan dy="-3.4">| and |S</tspan><tspan font-size="8.2" dy="3.4">21</tspan><tspan dy="-3.4">| (dB)</tspan></text>
<text x="213.7" y="129.6" font-size="8.8" xml:space="preserve">Sim..  S11</text>
<text x="213.7" y="139.9" font-size="8.8" xml:space="preserve">Sim..  S21</text>
<text x="213.7" y="150.2" font-size="8.8" xml:space="preserve">Mea..  S21</text>
<text x="213.7" y="160.5" font-size="8.8" xml:space="preserve">Mea..  S11</text>
<text x="213.7" y="170.8" font-size="8.8">PassBand</text>
<text x="320.7" y="191.8" font-size="9.4" text-anchor="middle">2.1</text>
<text x="356.9" y="191.8" font-size="9.4" text-anchor="middle">2.2</text>
<text x="393.0" y="191.8" font-size="9.4" text-anchor="middle">2.3</text>
<text x="429.2" y="191.8" font-size="9.4" text-anchor="middle">2.4</text>
<text x="465.4" y="191.8" font-size="9.4" text-anchor="middle">2.5</text>
<text x="501.5" y="191.8" font-size="9.4" text-anchor="middle">2.6</text>
<text x="537.7" y="191.8" font-size="9.4" text-anchor="middle">2.7</text>
<text x="317.5" y="15.5" font-size="9.4" text-anchor="end">0</text>
<text x="317.5" y="49.0" font-size="9.4" text-anchor="end">-10</text>
<text x="317.5" y="82.5" font-size="9.4" text-anchor="end">-20</text>
<text x="317.5" y="116.1" font-size="9.4" text-anchor="end">-30</text>
<text x="317.5" y="149.6" font-size="9.4" text-anchor="end">-40</text>
<text x="317.5" y="183.1" font-size="9.4" text-anchor="end">-50</text>
<text x="429.2" y="205.2" font-size="10.3" text-anchor="middle">Frequency (GHz)</text>
<text x="424.4" y="220.9" font-size="12.6" stroke-width="0.25" fill="#2a2a2a" text-anchor="middle">(b)</text>
<text transform="translate(296.1,95.7) rotate(-90)" font-size="10.8" fill="#3c3c3c" text-anchor="middle">|S<tspan font-size="8.2" dy="3.4">11</tspan><tspan dy="-3.4">| and |S</tspan><tspan font-size="8.2" dy="3.4">21</tspan><tspan dy="-3.4">| (dB)</tspan></text>
<text x="493.7" y="129.6" font-size="8.8" xml:space="preserve">Sim..  S11</text>
<text x="493.7" y="139.9" font-size="8.8" xml:space="preserve">Sim..  S21</text>
<text x="493.7" y="150.2" font-size="8.8" xml:space="preserve">Mea..  S21</text>
<text x="493.7" y="160.5" font-size="8.8" xml:space="preserve">Mea..  S11</text>
<text x="493.7" y="170.8" font-size="8.8">PassBand</text>
<text x="40.9" y="415.0" font-size="9.4" text-anchor="middle">2.9</text>
<text x="77.1" y="415.0" font-size="9.4" text-anchor="middle">3</text>
<text x="113.2" y="415.0" font-size="9.4" text-anchor="middle">3.1</text>
<text x="149.4" y="415.0" font-size="9.4" text-anchor="middle">3.2</text>
<text x="185.5" y="415.0" font-size="9.4" text-anchor="middle">3.3</text>
<text x="221.7" y="415.0" font-size="9.4" text-anchor="middle">3.4</text>
<text x="257.8" y="415.0" font-size="9.4" text-anchor="middle">3.5</text>
<text x="37.7" y="238.9" font-size="9.4" text-anchor="end">0</text>
<text x="37.7" y="272.4" font-size="9.4" text-anchor="end">-10</text>
<text x="37.7" y="305.9" font-size="9.4" text-anchor="end">-20</text>
<text x="37.7" y="339.3" font-size="9.4" text-anchor="end">-30</text>
<text x="37.7" y="372.8" font-size="9.4" text-anchor="end">-40</text>
<text x="37.7" y="406.3" font-size="9.4" text-anchor="end">-50</text>
<text x="149.3" y="428.4" font-size="10.3" text-anchor="middle">Frequency (GHz)</text>
<text x="144.6" y="445.1" font-size="12.6" stroke-width="0.55" fill="#2a2a2a" text-anchor="middle">(c)</text>
<text transform="translate(16.3,319.0) rotate(-90)" font-size="10.8" fill="#3c3c3c" text-anchor="middle">|S<tspan font-size="8.2" dy="3.4">11</tspan><tspan dy="-3.4">| and |S</tspan><tspan font-size="8.2" dy="3.4">21</tspan><tspan dy="-3.4">| (dB)</tspan></text>
<text x="213.8" y="352.8" font-size="8.8" xml:space="preserve">Sim..  S11</text>
<text x="213.8" y="363.1" font-size="8.8" xml:space="preserve">Sim..  S21</text>
<text x="213.8" y="373.4" font-size="8.8" xml:space="preserve">Mea..  S21</text>
<text x="213.8" y="383.7" font-size="8.8" xml:space="preserve">Mea..  S11</text>
<text x="213.8" y="394.0" font-size="8.8">PassBand</text>
<text x="324.2" y="414.9" font-size="9.4" text-anchor="middle">3.7</text>
<text x="359.7" y="414.9" font-size="9.4" text-anchor="middle">3.8</text>
<text x="395.2" y="414.9" font-size="9.4" text-anchor="middle">3.9</text>
<text x="430.7" y="414.9" font-size="9.4" text-anchor="middle">4</text>
<text x="466.2" y="414.9" font-size="9.4" text-anchor="middle">4.1</text>
<text x="501.6" y="414.9" font-size="9.4" text-anchor="middle">4.2</text>
<text x="537.1" y="414.9" font-size="9.4" text-anchor="middle">4.3</text>
<text x="317.5" y="238.9" font-size="9.4" text-anchor="end">0</text>
<text x="317.5" y="272.4" font-size="9.4" text-anchor="end">-10</text>
<text x="317.5" y="305.8" font-size="9.4" text-anchor="end">-20</text>
<text x="317.5" y="339.3" font-size="9.4" text-anchor="end">-30</text>
<text x="317.5" y="372.7" font-size="9.4" text-anchor="end">-40</text>
<text x="317.5" y="406.2" font-size="9.4" text-anchor="end">-50</text>
<text x="429.1" y="428.3" font-size="10.3" text-anchor="middle">Frequency (GHz)</text>
<text x="424.4" y="445.0" font-size="12.6" stroke-width="0.25" fill="#2a2a2a" text-anchor="middle">(d)</text>
<text transform="translate(296.1,319.0) rotate(-90)" font-size="10.8" fill="#3c3c3c" text-anchor="middle">|S<tspan font-size="8.2" dy="3.4">11</tspan><tspan dy="-3.4">| and |S</tspan><tspan font-size="8.2" dy="3.4">21</tspan><tspan dy="-3.4">| (dB)</tspan></text>
<text x="493.6" y="248.9" font-size="8.8" xml:space="preserve">Sim..  S11</text>
<text x="493.6" y="259.2" font-size="8.8" xml:space="preserve">Sim..  S21</text>
<text x="493.6" y="269.5" font-size="8.8" xml:space="preserve">Mea..  S21</text>
<text x="493.6" y="279.8" font-size="8.8" xml:space="preserve">Mea..  S11</text>
<text x="493.6" y="290.1" font-size="8.8">PassBand</text></g>
</svg></body></html>
